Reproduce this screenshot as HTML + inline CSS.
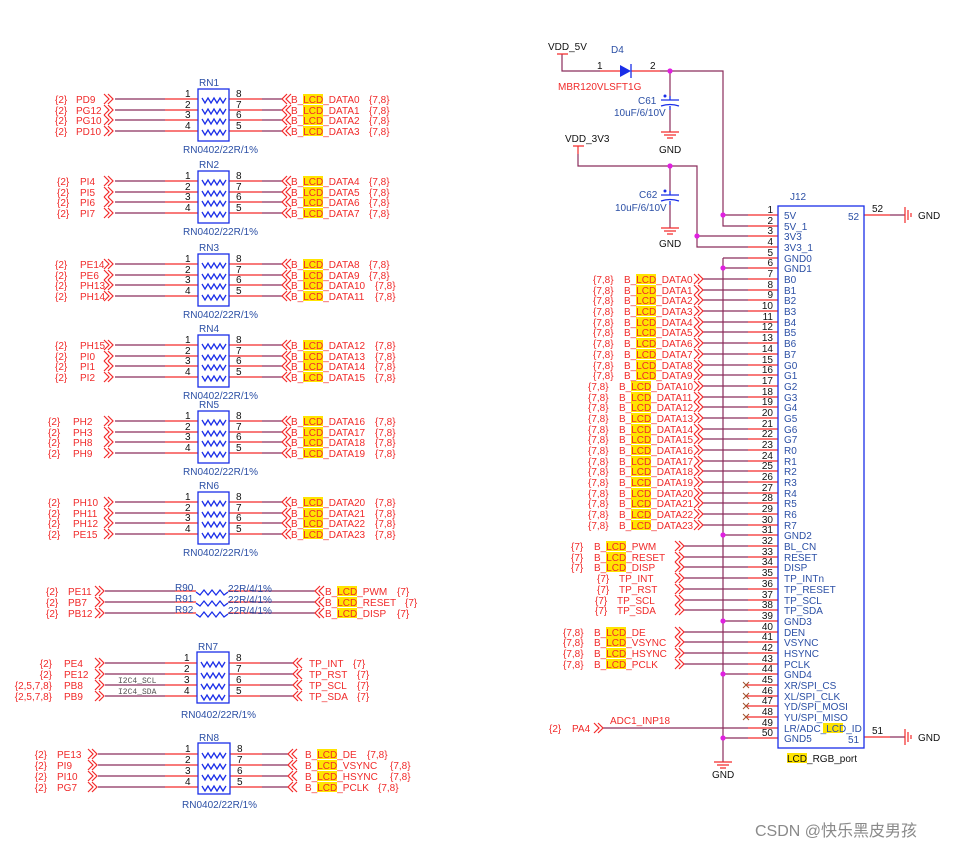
<!DOCTYPE html>
<html><head><meta charset="utf-8"><style>
html,body{margin:0;padding:0;background:#fff}
svg{display:block}
text{font-family:"Liberation Sans",Arial,sans-serif;font-size:10px}
.r{fill:#f02a2a}.b{fill:#2b4fa5}.k{fill:#111}
.p{stroke:#8b2d5c;fill:none;stroke-width:1.2}
.rd{stroke:#f42a2a;fill:none;stroke-width:1.2}
.bx{stroke:#1a2ee8;fill:none;stroke-width:1.3}
.hl{fill:#ffe400}
.m{font-family:"Liberation Mono",monospace;font-size:8px;fill:#555}
</style></head><body>
<svg width="961" height="848" viewBox="0 0 961 848" xmlns="http://www.w3.org/2000/svg">

<defs>
<g id="rng">
<path class="p" d="M115 0H165M115 11H165M115 21H165M115 32H165M262 0H282M262 11H282M262 21H282M262 32H282"/>
<path class="rd" d="M165 0H198M165 11H198M165 21H198M165 32H198M229 0H262M229 11H262M229 21H262M229 32H262"/>
<path class="rd" d="M104 -5l5 5-5 5M108 -5l5 5-5 5M104 6l5 5-5 5M108 6l5 5-5 5M104 16l5 5-5 5M108 16l5 5-5 5M104 27l5 5-5 5M108 27l5 5-5 5M287 -5l-5 5 5 5M291 -5l-5 5 5 5M287 6l-5 5 5 5M291 6l-5 5 5 5M287 16l-5 5 5 5M291 16l-5 5 5 5M287 27l-5 5 5 5M291 27l-5 5 5 5"/>
<rect x="198" y="-10" width="31" height="52" fill="#fff" class="bx"/>
<path class="bx" d="M202 -1l3 5 3-5 3 5 3-5 3 5 3-5 3 5 3-5M202 10l3 5 3-5 3 5 3-5 3 5 3-5 3 5 3-5M202 20l3 5 3-5 3 5 3-5 3 5 3-5 3 5 3-5M202 31l3 5 3-5 3 5 3-5 3 5 3-5 3 5 3-5"/>
<rect class="hl" x="303" y="-5" width="20" height="10"/><rect class="hl" x="303" y="6" width="20" height="10"/><rect class="hl" x="303" y="16" width="20" height="10"/><rect class="hl" x="303" y="27" width="20" height="10"/>
</g>
</defs>

<g transform="translate(0,99)"><use href="#rng"/>
<text class="b" x="199" y="-13">RN1</text><text class="b" x="183" y="54">RN0402/22R/1%</text>
<text class="k" x="185" y="-2">1</text><text class="k" x="185" y="9">2</text><text class="k" x="185" y="19">3</text><text class="k" x="185" y="30">4</text>
<text class="k" x="236" y="-2">8</text><text class="k" x="236" y="9">7</text><text class="k" x="236" y="19">6</text><text class="k" x="236" y="30">5</text>
<text class="r" x="55" y="4">{2}</text><text class="r" x="76" y="4">PD9</text>
<text class="r" x="55" y="15">{2}</text><text class="r" x="76" y="15">PG12</text>
<text class="r" x="55" y="25">{2}</text><text class="r" x="76" y="25">PG10</text>
<text class="r" x="55" y="36">{2}</text><text class="r" x="76" y="36">PD10</text>
<text class="r" x="291" y="4">B_LCD_DATA0</text><text class="r" x="369" y="4">{7,8}</text>
<text class="r" x="291" y="15">B_LCD_DATA1</text><text class="r" x="369" y="15">{7,8}</text>
<text class="r" x="291" y="25">B_LCD_DATA2</text><text class="r" x="369" y="25">{7,8}</text>
<text class="r" x="291" y="36">B_LCD_DATA3</text><text class="r" x="369" y="36">{7,8}</text>
</g>
<g transform="translate(0,181)"><use href="#rng"/>
<text class="b" x="199" y="-13">RN2</text><text class="b" x="183" y="54">RN0402/22R/1%</text>
<text class="k" x="185" y="-2">1</text><text class="k" x="185" y="9">2</text><text class="k" x="185" y="19">3</text><text class="k" x="185" y="30">4</text>
<text class="k" x="236" y="-2">8</text><text class="k" x="236" y="9">7</text><text class="k" x="236" y="19">6</text><text class="k" x="236" y="30">5</text>
<text class="r" x="57" y="4">{2}</text><text class="r" x="80" y="4">PI4</text>
<text class="r" x="57" y="15">{2}</text><text class="r" x="80" y="15">PI5</text>
<text class="r" x="57" y="25">{2}</text><text class="r" x="80" y="25">PI6</text>
<text class="r" x="57" y="36">{2}</text><text class="r" x="80" y="36">PI7</text>
<text class="r" x="291" y="4">B_LCD_DATA4</text><text class="r" x="369" y="4">{7,8}</text>
<text class="r" x="291" y="15">B_LCD_DATA5</text><text class="r" x="369" y="15">{7,8}</text>
<text class="r" x="291" y="25">B_LCD_DATA6</text><text class="r" x="369" y="25">{7,8}</text>
<text class="r" x="291" y="36">B_LCD_DATA7</text><text class="r" x="369" y="36">{7,8}</text>
</g>
<g transform="translate(0,264)"><use href="#rng"/>
<text class="b" x="199" y="-13">RN3</text><text class="b" x="183" y="54">RN0402/22R/1%</text>
<text class="k" x="185" y="-2">1</text><text class="k" x="185" y="9">2</text><text class="k" x="185" y="19">3</text><text class="k" x="185" y="30">4</text>
<text class="k" x="236" y="-2">8</text><text class="k" x="236" y="9">7</text><text class="k" x="236" y="19">6</text><text class="k" x="236" y="30">5</text>
<text class="r" x="55" y="4">{2}</text><text class="r" x="80" y="4">PE14</text>
<text class="r" x="55" y="15">{2}</text><text class="r" x="80" y="15">PE6</text>
<text class="r" x="55" y="25">{2}</text><text class="r" x="80" y="25">PH13</text>
<text class="r" x="55" y="36">{2}</text><text class="r" x="80" y="36">PH14</text>
<text class="r" x="291" y="4">B_LCD_DATA8</text><text class="r" x="369" y="4">{7,8}</text>
<text class="r" x="291" y="15">B_LCD_DATA9</text><text class="r" x="369" y="15">{7,8}</text>
<text class="r" x="291" y="25">B_LCD_DATA10</text><text class="r" x="375" y="25">{7,8}</text>
<text class="r" x="291" y="36">B_LCD_DATA11</text><text class="r" x="375" y="36">{7,8}</text>
</g>
<g transform="translate(0,345)"><use href="#rng"/>
<text class="b" x="199" y="-13">RN4</text><text class="b" x="183" y="54">RN0402/22R/1%</text>
<text class="k" x="185" y="-2">1</text><text class="k" x="185" y="9">2</text><text class="k" x="185" y="19">3</text><text class="k" x="185" y="30">4</text>
<text class="k" x="236" y="-2">8</text><text class="k" x="236" y="9">7</text><text class="k" x="236" y="19">6</text><text class="k" x="236" y="30">5</text>
<text class="r" x="55" y="4">{2}</text><text class="r" x="80" y="4">PH15</text>
<text class="r" x="55" y="15">{2}</text><text class="r" x="80" y="15">PI0</text>
<text class="r" x="55" y="25">{2}</text><text class="r" x="80" y="25">PI1</text>
<text class="r" x="55" y="36">{2}</text><text class="r" x="80" y="36">PI2</text>
<text class="r" x="291" y="4">B_LCD_DATA12</text><text class="r" x="375" y="4">{7,8}</text>
<text class="r" x="291" y="15">B_LCD_DATA13</text><text class="r" x="375" y="15">{7,8}</text>
<text class="r" x="291" y="25">B_LCD_DATA14</text><text class="r" x="375" y="25">{7,8}</text>
<text class="r" x="291" y="36">B_LCD_DATA15</text><text class="r" x="375" y="36">{7,8}</text>
</g>
<g transform="translate(0,421)"><use href="#rng"/>
<text class="b" x="199" y="-13">RN5</text><text class="b" x="183" y="54">RN0402/22R/1%</text>
<text class="k" x="185" y="-2">1</text><text class="k" x="185" y="9">2</text><text class="k" x="185" y="19">3</text><text class="k" x="185" y="30">4</text>
<text class="k" x="236" y="-2">8</text><text class="k" x="236" y="9">7</text><text class="k" x="236" y="19">6</text><text class="k" x="236" y="30">5</text>
<text class="r" x="48" y="4">{2}</text><text class="r" x="73" y="4">PH2</text>
<text class="r" x="48" y="15">{2}</text><text class="r" x="73" y="15">PH3</text>
<text class="r" x="48" y="25">{2}</text><text class="r" x="73" y="25">PH8</text>
<text class="r" x="48" y="36">{2}</text><text class="r" x="73" y="36">PH9</text>
<text class="r" x="291" y="4">B_LCD_DATA16</text><text class="r" x="375" y="4">{7,8}</text>
<text class="r" x="291" y="15">B_LCD_DATA17</text><text class="r" x="375" y="15">{7,8}</text>
<text class="r" x="291" y="25">B_LCD_DATA18</text><text class="r" x="375" y="25">{7,8}</text>
<text class="r" x="291" y="36">B_LCD_DATA19</text><text class="r" x="375" y="36">{7,8}</text>
</g>
<g transform="translate(0,502)"><use href="#rng"/>
<text class="b" x="199" y="-13">RN6</text><text class="b" x="183" y="54">RN0402/22R/1%</text>
<text class="k" x="185" y="-2">1</text><text class="k" x="185" y="9">2</text><text class="k" x="185" y="19">3</text><text class="k" x="185" y="30">4</text>
<text class="k" x="236" y="-2">8</text><text class="k" x="236" y="9">7</text><text class="k" x="236" y="19">6</text><text class="k" x="236" y="30">5</text>
<text class="r" x="48" y="4">{2}</text><text class="r" x="73" y="4">PH10</text>
<text class="r" x="48" y="15">{2}</text><text class="r" x="73" y="15">PH11</text>
<text class="r" x="48" y="25">{2}</text><text class="r" x="73" y="25">PH12</text>
<text class="r" x="48" y="36">{2}</text><text class="r" x="73" y="36">PE15</text>
<text class="r" x="291" y="4">B_LCD_DATA20</text><text class="r" x="375" y="4">{7,8}</text>
<text class="r" x="291" y="15">B_LCD_DATA21</text><text class="r" x="375" y="15">{7,8}</text>
<text class="r" x="291" y="25">B_LCD_DATA22</text><text class="r" x="375" y="25">{7,8}</text>
<text class="r" x="291" y="36">B_LCD_DATA23</text><text class="r" x="375" y="36">{7,8}</text>
</g>

<path class="p" d="M105 591H175M105 602H175M105 613H175M250 591H315M250 602H315M250 613H315"/>
<path class="rd" d="M175 591H196M175 602H196M175 613H196M228 591H250M228 602H250M228 613H250"/>
<path class="bx" d="M196 592l4 3 4-5 4 5 4-5 4 5 4-5 4 5 4-3M196 603l4 3 4-5 4 5 4-5 4 5 4-5 4 5 4-3M196 614l4 3 4-5 4 5 4-5 4 5 4-5 4 5 4-3"/>
<path class="rd" d="M95 586l5 5-5 5M99 586l5 5-5 5M95 597l5 5-5 5M99 597l5 5-5 5M95 608l5 5-5 5M99 608l5 5-5 5M320 586l-5 5 5 5M324 586l-5 5 5 5M320 597l-5 5 5 5M324 597l-5 5 5 5M320 608l-5 5 5 5M324 608l-5 5 5 5"/>
<rect class="hl" x="337" y="586" width="20" height="10"/><rect class="hl" x="337" y="597" width="20" height="10"/><rect class="hl" x="337" y="608" width="20" height="10"/>
<text class="b" x="175" y="591">R90</text><text class="b" x="228" y="592">22R/4/1%</text>
<text class="b" x="175" y="602">R91</text><text class="b" x="228" y="603">22R/4/1%</text>
<text class="b" x="175" y="613">R92</text><text class="b" x="228" y="614">22R/4/1%</text>
<text class="r" x="46" y="595">{2}</text><text class="r" x="68" y="595">PE11</text>
<text class="r" x="46" y="606">{2}</text><text class="r" x="68" y="606">PB7</text>
<text class="r" x="46" y="617">{2}</text><text class="r" x="68" y="617">PB12</text>
<text class="r" x="325" y="595">B_LCD_PWM</text><text class="r" x="397" y="595">{7}</text>
<text class="r" x="325" y="606">B_LCD_RESET</text><text class="r" x="405" y="606">{7}</text>
<text class="r" x="325" y="617">B_LCD_DISP</text><text class="r" x="397" y="617">{7}</text>

<g transform="translate(0,663)">
<path class="p" d="M105 0H165M105 11H165M105 22H165M105 33H165M260 0H293M260 11H293M260 22H293M260 33H293"/>
<path class="rd" d="M165 0H197M165 11H197M165 22H197M165 33H197M229 0H260M229 11H260M229 22H260M229 33H260"/>
<path class="rd" d="M95 -5l5 5-5 5M99 -5l5 5-5 5M95 6l5 5-5 5M99 6l5 5-5 5M95 17l5 5-5 5M99 17l5 5-5 5M95 28l5 5-5 5M99 28l5 5-5 5M298 -5l-5 5 5 5M302 -5l-5 5 5 5M298 6l-5 5 5 5M302 6l-5 5 5 5M298 17l-5 5 5 5M302 17l-5 5 5 5M298 28l-5 5 5 5M302 28l-5 5 5 5"/>
<rect x="197" y="-11" width="32" height="51" fill="#fff" class="bx"/>
<path class="bx" d="M201 -1l3 5 3-5 3 5 3-5 3 5 3-5 3 5 3-5M201 10l3 5 3-5 3 5 3-5 3 5 3-5 3 5 3-5M201 21l3 5 3-5 3 5 3-5 3 5 3-5 3 5 3-5M201 32l3 5 3-5 3 5 3-5 3 5 3-5 3 5 3-5"/>
<text class="b" x="198" y="-13">RN7</text><text class="b" x="181" y="55">RN0402/22R/1%</text>
<text class="k" x="184" y="-2">1</text><text class="k" x="184" y="9">2</text><text class="k" x="184" y="20">3</text><text class="k" x="184" y="31">4</text>
<text class="k" x="236" y="-2">8</text><text class="k" x="236" y="9">7</text><text class="k" x="236" y="20">6</text><text class="k" x="236" y="31">5</text>
<text class="m" x="118" y="20">I2C4_SCL</text><text class="m" x="118" y="31">I2C4_SDA</text>
<text class="r" x="52" y="4" text-anchor="end">{2}</text><text class="r" x="64" y="4">PE4</text>
<text class="r" x="52" y="15" text-anchor="end">{2}</text><text class="r" x="64" y="15">PE12</text>
<text class="r" x="52" y="26" text-anchor="end">{2,5,7,8}</text><text class="r" x="64" y="26">PB8</text>
<text class="r" x="52" y="37" text-anchor="end">{2,5,7,8}</text><text class="r" x="64" y="37">PB9</text>
<text class="r" x="309" y="4">TP_INT</text><text class="r" x="353" y="4">{7}</text>
<text class="r" x="309" y="15">TP_RST</text><text class="r" x="357" y="15">{7}</text>
<text class="r" x="309" y="26">TP_SCL</text><text class="r" x="357" y="26">{7}</text>
<text class="r" x="309" y="37">TP_SDA</text><text class="r" x="357" y="37">{7}</text>
</g>

<g transform="translate(0,754)">
<path class="p" d="M98 0H165M98 11H165M98 22H165M98 33H165M262 0H288M262 11H288M262 22H288M262 33H288"/>
<path class="rd" d="M165 0H198M165 11H198M165 22H198M165 33H198M230 0H262M230 11H262M230 22H262M230 33H262"/>
<path class="rd" d="M88 -5l5 5-5 5M92 -5l5 5-5 5M88 6l5 5-5 5M92 6l5 5-5 5M88 17l5 5-5 5M92 17l5 5-5 5M88 28l5 5-5 5M92 28l5 5-5 5M293 -5l-5 5 5 5M297 -5l-5 5 5 5M293 6l-5 5 5 5M297 6l-5 5 5 5M293 17l-5 5 5 5M297 17l-5 5 5 5M293 28l-5 5 5 5M297 28l-5 5 5 5"/>
<rect x="198" y="-11" width="32" height="51" fill="#fff" class="bx"/>
<path class="bx" d="M202 -1l3 5 3-5 3 5 3-5 3 5 3-5 3 5 3-5M202 10l3 5 3-5 3 5 3-5 3 5 3-5 3 5 3-5M202 21l3 5 3-5 3 5 3-5 3 5 3-5 3 5 3-5M202 32l3 5 3-5 3 5 3-5 3 5 3-5 3 5 3-5"/>
<rect class="hl" x="317" y="-5" width="20" height="10"/><rect class="hl" x="317" y="6" width="20" height="10"/><rect class="hl" x="317" y="17" width="20" height="10"/><rect class="hl" x="317" y="28" width="20" height="10"/>
<text class="b" x="199" y="-13">RN8</text><text class="b" x="182" y="54">RN0402/22R/1%</text>
<text class="k" x="185" y="-2">1</text><text class="k" x="185" y="9">2</text><text class="k" x="185" y="20">3</text><text class="k" x="185" y="31">4</text>
<text class="k" x="237" y="-2">8</text><text class="k" x="237" y="9">7</text><text class="k" x="237" y="20">6</text><text class="k" x="237" y="31">5</text>
<text class="r" x="47" y="4" text-anchor="end">{2}</text><text class="r" x="57" y="4">PE13</text>
<text class="r" x="47" y="15" text-anchor="end">{2}</text><text class="r" x="57" y="15">PI9</text>
<text class="r" x="47" y="26" text-anchor="end">{2}</text><text class="r" x="57" y="26">PI10</text>
<text class="r" x="47" y="37" text-anchor="end">{2}</text><text class="r" x="57" y="37">PG7</text>
<text class="r" x="305" y="4">B_LCD_DE</text><text class="r" x="367" y="4">{7,8}</text>
<text class="r" x="305" y="15">B_LCD_VSYNC</text><text class="r" x="390" y="15">{7,8}</text>
<text class="r" x="305" y="26">B_LCD_HSYNC</text><text class="r" x="390" y="26">{7,8}</text>
<text class="r" x="305" y="37">B_LCD_PCLK</text><text class="r" x="378" y="37">{7,8}</text>
</g>

<path class="p" d="M562 54V71H600M660 71H723V226H748M723 215H748M578 154V166H697V247H748M697 236H748M670 71V96M670 110V132M670 166V191M670 205V228M723 258V762M723 258H748M723 268H748M723 535H748M723 621H748M723 674H748M723 738H748"/>
<path class="rd" d="M557 54H568M600 71H620M631 71H660M573 146H584M578 146V154M661 132H679M664 135H676M667 138H673M661 228H679M664 231H676M667 234H673M714 762H732M717 765H729M720 768H726"/>
<polygon points="620,65 620,77 631,71" fill="#1a2ee8"/>
<path class="bx" d="M631 64V78M661 100H679M661 106Q670 103 679 106M670 100V96M670 106V110M661 195H679M661 201Q670 198 679 201M670 191V195M670 201V205"/>
<circle cx="665" cy="96" r="1.5" fill="#1a2ee8"/><circle cx="665" cy="191" r="1.5" fill="#1a2ee8"/>
<text class="k" x="548" y="50">VDD_5V</text>
<text class="b" x="611" y="53">D4</text>
<text class="k" x="597" y="69">1</text><text class="k" x="650" y="69">2</text>
<text class="r" x="558" y="90">MBR120VLSFT1G</text>
<text class="b" x="638" y="104">C61</text><text class="b" x="614" y="116">10uF/6/10V</text>
<text class="k" x="659" y="153">GND</text>
<text class="k" x="565" y="142">VDD_3V3</text>
<text class="b" x="639" y="198">C62</text><text class="b" x="615" y="211">10uF/6/10V</text>
<text class="k" x="659" y="247">GND</text>
<text class="k" x="712" y="778">GND</text>

<path class="rd" d="M748 215H778M748 226H778M748 236H778M748 247H778M748 258H778M748 268H778M748 279H778M748 290H778M748 300H778M748 311H778M748 322H778M748 332H778M748 343H778M748 354H778M748 365H778M748 375H778M748 386H778M748 397H778M748 407H778M748 418H778M748 429H778M748 439H778M748 450H778M748 461H778M748 471H778M748 482H778M748 493H778M748 503H778M748 514H778M748 525H778M748 535H778M748 546H778M748 557H778M748 567H778M748 578H778M748 589H778M748 600H778M748 610H778M748 621H778M748 632H778M748 642H778M748 653H778M748 664H778M748 674H778M746 685H778M746 696H778M746 706H778M746 717H778M748 728H778M748 738H778M864 215H890M864 737H890"/>
<path class="p" d="M703 279H748M703 290H748M703 300H748M703 311H748M703 322H748M703 332H748M703 343H748M703 354H748M703 365H748M703 375H748M703 386H748M703 397H748M703 407H748M703 418H748M703 429H748M703 439H748M703 450H748M703 461H748M703 471H748M703 482H748M703 493H748M703 503H748M703 514H748M703 525H748M684 546H748M684 557H748M684 567H748M684 578H748M684 589H748M684 600H748M684 610H748M684 632H748M684 642H748M684 653H748M684 664H748M603 728H748M890 215H905M890 737H905"/>
<path class="rd" d="M905 207V223M908 210V220M911 213V217M905 729V745M908 732V742M911 735V739"/>
<path stroke="#a0522d" fill="none" d="M743 682l6 6M749 682l-6 6M743 693l6 6M749 693l-6 6M743 703l6 6M749 703l-6 6M743 714l6 6M749 714l-6 6"/>
<path class="rd" d="M694 274l5 5-5 5M698 274l5 5-5 5M694 285l5 5-5 5M698 285l5 5-5 5M694 295l5 5-5 5M698 295l5 5-5 5M694 306l5 5-5 5M698 306l5 5-5 5M694 317l5 5-5 5M698 317l5 5-5 5M694 327l5 5-5 5M698 327l5 5-5 5M694 338l5 5-5 5M698 338l5 5-5 5M694 349l5 5-5 5M698 349l5 5-5 5M694 360l5 5-5 5M698 360l5 5-5 5M694 370l5 5-5 5M698 370l5 5-5 5M694 381l5 5-5 5M698 381l5 5-5 5M694 392l5 5-5 5M698 392l5 5-5 5M694 402l5 5-5 5M698 402l5 5-5 5M694 413l5 5-5 5M698 413l5 5-5 5M694 424l5 5-5 5M698 424l5 5-5 5M694 434l5 5-5 5M698 434l5 5-5 5M694 445l5 5-5 5M698 445l5 5-5 5M694 456l5 5-5 5M698 456l5 5-5 5M694 466l5 5-5 5M698 466l5 5-5 5M694 477l5 5-5 5M698 477l5 5-5 5M694 488l5 5-5 5M698 488l5 5-5 5M694 498l5 5-5 5M698 498l5 5-5 5M694 509l5 5-5 5M698 509l5 5-5 5M694 520l5 5-5 5M698 520l5 5-5 5
M675 541l5 5-5 5M679 541l5 5-5 5M675 552l5 5-5 5M679 552l5 5-5 5M675 562l5 5-5 5M679 562l5 5-5 5M675 573l5 5-5 5M679 573l5 5-5 5M675 584l5 5-5 5M679 584l5 5-5 5M675 595l5 5-5 5M679 595l5 5-5 5M675 605l5 5-5 5M679 605l5 5-5 5M675 627l5 5-5 5M679 627l5 5-5 5M675 637l5 5-5 5M679 637l5 5-5 5M675 648l5 5-5 5M679 648l5 5-5 5M675 659l5 5-5 5M679 659l5 5-5 5M594 723l5 5-5 5M598 723l5 5-5 5"/>
<g fill="#e020e0"><circle cx="670" cy="71" r="2.6"/><circle cx="670" cy="166" r="2.6"/><circle cx="723" cy="215" r="2.6"/><circle cx="697" cy="236" r="2.6"/><circle cx="723" cy="268" r="2.6"/><circle cx="723" cy="535" r="2.6"/><circle cx="723" cy="621" r="2.6"/><circle cx="723" cy="674" r="2.6"/><circle cx="723" cy="738" r="2.6"/></g>
<rect x="778" y="206" width="86" height="542" fill="none" class="bx"/>
<text class="b" x="790" y="200">J12</text>
<text class="b" x="848" y="220">52</text><text class="b" x="848" y="743">51</text>
<text class="k" x="872" y="212">52</text><text class="k" x="872" y="734">51</text>
<text class="k" x="918" y="219">GND</text><text class="k" x="918" y="741">GND</text>
<rect class="hl" x="787" y="753" width="20" height="10"/>
<text class="k" x="787" y="762">LCD_RGB_port</text>
<rect class="hl" x="823" y="723" width="20" height="10"/>

<g class="k" text-anchor="end">
<text x="773" y="213">1</text><text x="773" y="224">2</text><text x="773" y="234">3</text><text x="773" y="245">4</text><text x="773" y="256">5</text><text x="773" y="266">6</text><text x="773" y="277">7</text><text x="773" y="288">8</text><text x="773" y="298">9</text><text x="773" y="309">10</text><text x="773" y="320">11</text><text x="773" y="330">12</text><text x="773" y="341">13</text><text x="773" y="352">14</text><text x="773" y="363">15</text><text x="773" y="373">16</text><text x="773" y="384">17</text><text x="773" y="395">18</text><text x="773" y="405">19</text><text x="773" y="416">20</text><text x="773" y="427">21</text><text x="773" y="437">22</text><text x="773" y="448">23</text><text x="773" y="459">24</text><text x="773" y="469">25</text><text x="773" y="480">26</text><text x="773" y="491">27</text><text x="773" y="501">28</text><text x="773" y="512">29</text><text x="773" y="523">30</text><text x="773" y="533">31</text><text x="773" y="544">32</text><text x="773" y="555">33</text><text x="773" y="565">34</text><text x="773" y="576">35</text><text x="773" y="587">36</text><text x="773" y="598">37</text><text x="773" y="608">38</text><text x="773" y="619">39</text><text x="773" y="630">40</text><text x="773" y="640">41</text><text x="773" y="651">42</text><text x="773" y="662">43</text><text x="773" y="672">44</text><text x="773" y="683">45</text><text x="773" y="694">46</text><text x="773" y="704">47</text><text x="773" y="715">48</text><text x="773" y="726">49</text><text x="773" y="736">50</text>
</g>
<g class="b">
<text x="784" y="219">5V</text><text x="784" y="230">5V_1</text><text x="784" y="240">3V3</text><text x="784" y="251">3V3_1</text><text x="784" y="262">GND0</text><text x="784" y="272">GND1</text>
<text x="784" y="283">B0</text><text x="784" y="294">B1</text><text x="784" y="304">B2</text><text x="784" y="315">B3</text><text x="784" y="326">B4</text><text x="784" y="336">B5</text><text x="784" y="347">B6</text><text x="784" y="358">B7</text>
<text x="784" y="369">G0</text><text x="784" y="379">G1</text><text x="784" y="390">G2</text><text x="784" y="401">G3</text><text x="784" y="411">G4</text><text x="784" y="422">G5</text><text x="784" y="433">G6</text><text x="784" y="443">G7</text>
<text x="784" y="454">R0</text><text x="784" y="465">R1</text><text x="784" y="475">R2</text><text x="784" y="486">R3</text><text x="784" y="497">R4</text><text x="784" y="507">R5</text><text x="784" y="518">R6</text><text x="784" y="529">R7</text>
<text x="784" y="539">GND2</text><text x="784" y="550">BL_CN</text><text x="784" y="561">RESET</text><text x="784" y="571">DISP</text><text x="784" y="582">TP_INTn</text><text x="784" y="593">TP_RESET</text><text x="784" y="604">TP_SCL</text><text x="784" y="614">TP_SDA</text><text x="784" y="625">GND3</text><text x="784" y="636">DEN</text><text x="784" y="646">VSYNC</text><text x="784" y="657">HSYNC</text><text x="784" y="668">PCLK</text><text x="784" y="678">GND4</text><text x="784" y="689">XR/SPI_CS</text><text x="784" y="700">XL/SPI_CLK</text><text x="784" y="710">YD/SPI_MOSI</text><text x="784" y="721">YU/SPI_MISO</text><text x="784" y="732">LR/ADC_LCD_ID</text><text x="784" y="742">GND5</text>
</g>

<g class="hl">
<rect x="636" y="274" width="20" height="10"/><rect x="636" y="285" width="20" height="10"/><rect x="636" y="295" width="20" height="10"/><rect x="636" y="306" width="20" height="10"/><rect x="636" y="317" width="20" height="10"/><rect x="636" y="327" width="20" height="10"/><rect x="636" y="338" width="20" height="10"/><rect x="636" y="349" width="20" height="10"/><rect x="636" y="360" width="20" height="10"/><rect x="636" y="370" width="20" height="10"/>
<rect x="631" y="381" width="20" height="10"/><rect x="631" y="392" width="20" height="10"/><rect x="631" y="402" width="20" height="10"/><rect x="631" y="413" width="20" height="10"/><rect x="631" y="424" width="20" height="10"/><rect x="631" y="434" width="20" height="10"/><rect x="631" y="445" width="20" height="10"/><rect x="631" y="456" width="20" height="10"/><rect x="631" y="466" width="20" height="10"/><rect x="631" y="477" width="20" height="10"/><rect x="631" y="488" width="20" height="10"/><rect x="631" y="498" width="20" height="10"/><rect x="631" y="509" width="20" height="10"/><rect x="631" y="520" width="20" height="10"/>
<rect x="606" y="541" width="20" height="10"/><rect x="606" y="552" width="20" height="10"/><rect x="606" y="562" width="20" height="10"/>
<rect x="606" y="627" width="20" height="10"/><rect x="606" y="637" width="20" height="10"/><rect x="606" y="648" width="20" height="10"/><rect x="606" y="659" width="20" height="10"/>
</g>
<g class="r">
<text x="593" y="283">{7,8}</text><text x="624" y="283">B_LCD_DATA0</text>
<text x="593" y="294">{7,8}</text><text x="624" y="294">B_LCD_DATA1</text>
<text x="593" y="304">{7,8}</text><text x="624" y="304">B_LCD_DATA2</text>
<text x="593" y="315">{7,8}</text><text x="624" y="315">B_LCD_DATA3</text>
<text x="593" y="326">{7,8}</text><text x="624" y="326">B_LCD_DATA4</text>
<text x="593" y="336">{7,8}</text><text x="624" y="336">B_LCD_DATA5</text>
<text x="593" y="347">{7,8}</text><text x="624" y="347">B_LCD_DATA6</text>
<text x="593" y="358">{7,8}</text><text x="624" y="358">B_LCD_DATA7</text>
<text x="593" y="369">{7,8}</text><text x="624" y="369">B_LCD_DATA8</text>
<text x="593" y="379">{7,8}</text><text x="624" y="379">B_LCD_DATA9</text>
<text x="588" y="390">{7,8}</text><text x="619" y="390">B_LCD_DATA10</text>
<text x="588" y="401">{7,8}</text><text x="619" y="401">B_LCD_DATA11</text>
<text x="588" y="411">{7,8}</text><text x="619" y="411">B_LCD_DATA12</text>
<text x="588" y="422">{7,8}</text><text x="619" y="422">B_LCD_DATA13</text>
<text x="588" y="433">{7,8}</text><text x="619" y="433">B_LCD_DATA14</text>
<text x="588" y="443">{7,8}</text><text x="619" y="443">B_LCD_DATA15</text>
<text x="588" y="454">{7,8}</text><text x="619" y="454">B_LCD_DATA16</text>
<text x="588" y="465">{7,8}</text><text x="619" y="465">B_LCD_DATA17</text>
<text x="588" y="475">{7,8}</text><text x="619" y="475">B_LCD_DATA18</text>
<text x="588" y="486">{7,8}</text><text x="619" y="486">B_LCD_DATA19</text>
<text x="588" y="497">{7,8}</text><text x="619" y="497">B_LCD_DATA20</text>
<text x="588" y="507">{7,8}</text><text x="619" y="507">B_LCD_DATA21</text>
<text x="588" y="518">{7,8}</text><text x="619" y="518">B_LCD_DATA22</text>
<text x="588" y="529">{7,8}</text><text x="619" y="529">B_LCD_DATA23</text>
<text x="571" y="550">{7}</text><text x="594" y="550">B_LCD_PWM</text>
<text x="571" y="561">{7}</text><text x="594" y="561">B_LCD_RESET</text>
<text x="571" y="571">{7}</text><text x="594" y="571">B_LCD_DISP</text>
<text x="597" y="582">{7}</text><text x="619" y="582">TP_INT</text>
<text x="597" y="593">{7}</text><text x="619" y="593">TP_RST</text>
<text x="595" y="604">{7}</text><text x="617" y="604">TP_SCL</text>
<text x="595" y="614">{7}</text><text x="617" y="614">TP_SDA</text>
<text x="563" y="636">{7,8}</text><text x="594" y="636">B_LCD_DE</text>
<text x="563" y="646">{7,8}</text><text x="594" y="646">B_LCD_VSYNC</text>
<text x="563" y="657">{7,8}</text><text x="594" y="657">B_LCD_HSYNC</text>
<text x="563" y="668">{7,8}</text><text x="594" y="668">B_LCD_PCLK</text>
<text x="549" y="732">{2}</text><text x="572" y="732">PA4</text>
<text x="610" y="724">ADC1_INP18</text>
</g>

<text x="755" y="836" style="font-family:'Liberation Sans','Noto Sans CJK SC',sans-serif;font-size:16px" fill="#8a8a8a">CSDN @快乐黑皮男孩</text>
</svg>
</body></html>
